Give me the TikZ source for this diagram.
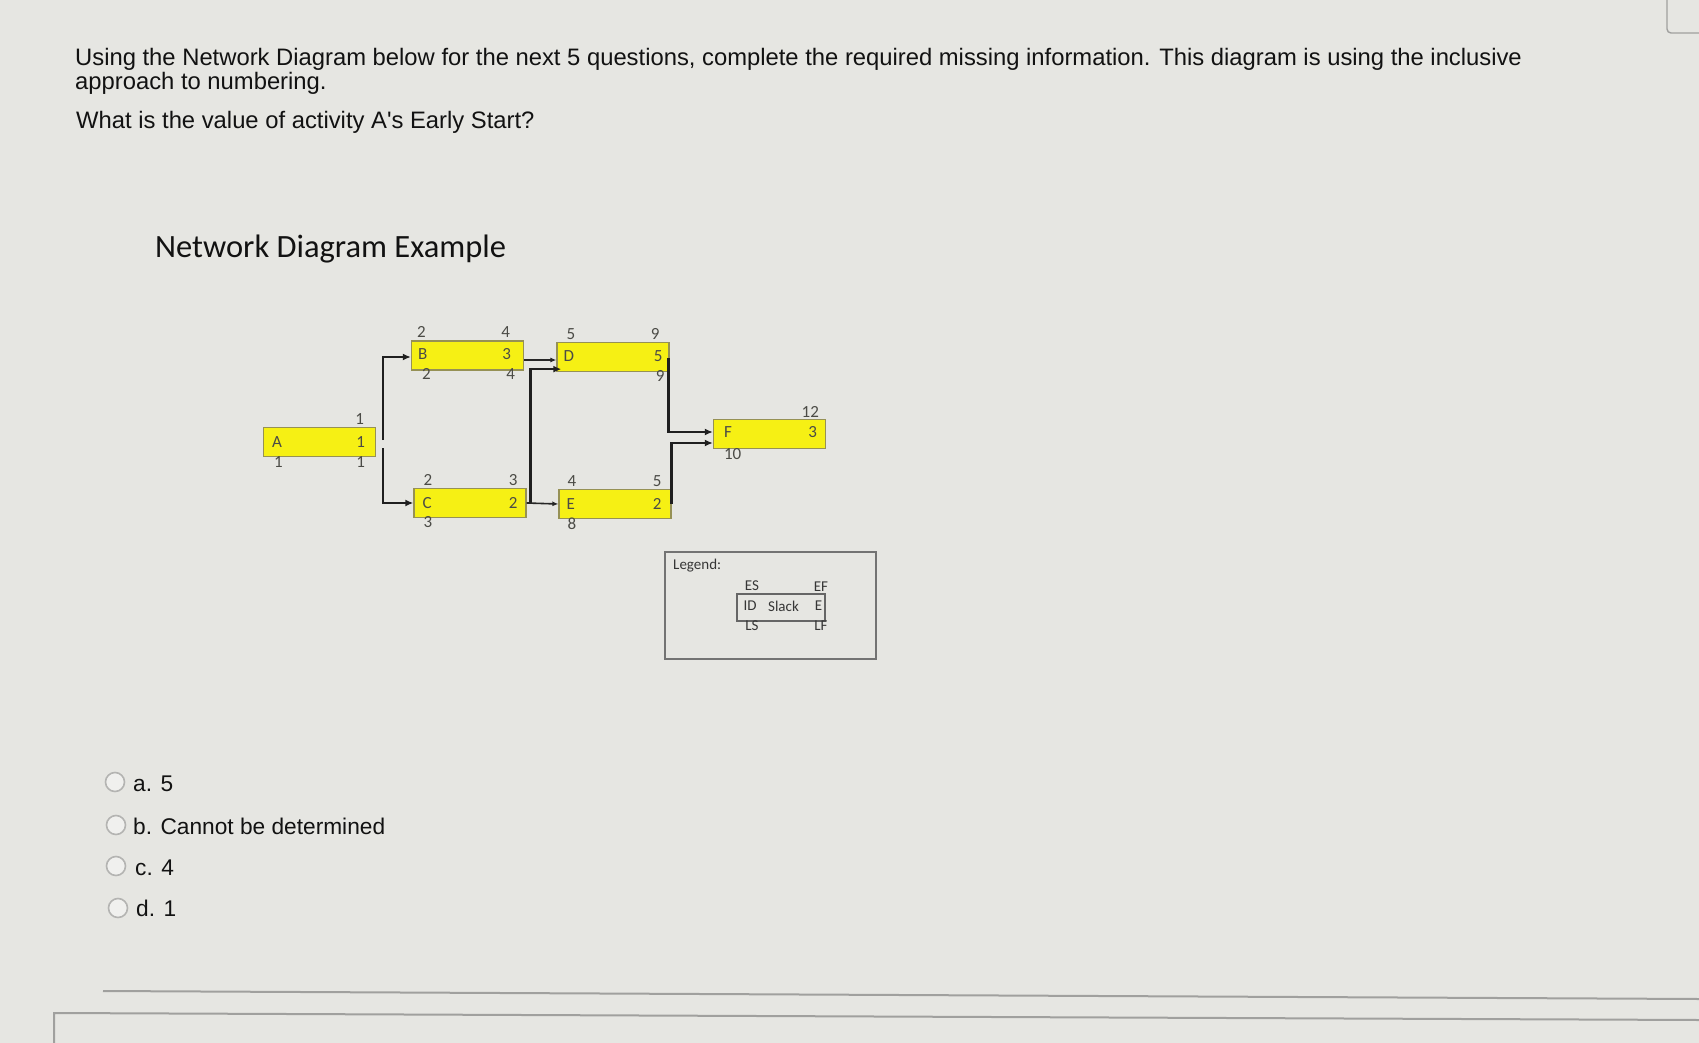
\documentclass[tikz,border=0pt]{standalone}
\usepackage{fontspec}
\setmainfont{Liberation Sans}
\newfontfamily\carlito{Carlito}
\usetikzlibrary{arrows.meta}
\definecolor{paper}{RGB}{230,230,226}
\definecolor{ink}{RGB}{18,18,18}
\definecolor{lab}{RGB}{75,75,70}
\definecolor{boxfill}{RGB}{246,240,20}
\definecolor{boxline}{RGB}{150,145,85}
\definecolor{rulegray}{RGB}{160,160,158}
\definecolor{radiogray}{RGB}{180,180,178}
\begin{document}
\begin{tikzpicture}[x=1pt,y=-1pt,
  actbox/.style={draw=boxline, line width=1.3pt, fill=boxfill, minimum width=112pt, minimum height=29pt, inner sep=0pt},
  lbl/.style={font=\carlito\fontsize{17}{17}\selectfont, text=lab, inner sep=0pt},
  leglbl/.style={font=\carlito\fontsize{15}{15}\selectfont, text=ink!85, inner sep=0pt},
  conn/.style={line width=2.4pt, draw=black!88, -{Latex[length=8pt,width=7pt]}},
  thinconn/.style={line width=1.6pt, draw=black!85, -{Latex[length=6pt,width=5pt]}},
  qtext/.style={font=\fontsize{23.8}{27}\selectfont, text=ink, inner sep=0pt},
  atext/.style={font=\fontsize{22.7}{26}\selectfont, text=ink, inner sep=0pt},
  radio/.style={circle, draw=radiogray, line width=1.6pt, fill=paper!60!white, minimum size=19pt, inner sep=0pt}
]
\useasboundingbox (0,0) rectangle (1699,1043);
\fill[paper] (0,0) rectangle (1699,1043);

% top-right corner element and bottom rules
\draw[rulegray, line width=1.4pt, rounded corners=4pt] (1667,0) -- (1667,33) -- (1699,33);
\draw[rulegray, line width=2pt] (103,991) -- (1699,999);
\draw[rulegray, line width=2pt] (1699,1020) -- (54,1013) -- (54,1043);

% question text
\node[qtext, anchor=base west] (q1) at (75,66) {Using the Network Diagram below for the next 5 questions, complete the required missing information. This diagram is using the inclusive};
\node[qtext, anchor=base west] (q2) at (75,90) {approach to numbering.};
\node[qtext, anchor=base west] (q3) at (76,129) {What is the value of activity A\textquotesingle s Early Start?};

% title
\node[anchor=base west, font=\carlito\fontsize{32.5}{32.5}\selectfont, text=ink, inner sep=0pt] (title) at (155,257) {Network Diagram Example};

% activity boxes
\node[actbox] (A) at (319.5,442) {};
\node[actbox] (B) at (467.5,355.5) {};
\node[actbox] (C) at (470,503) {};
\node[actbox] (D) at (613,357) {};
\node[actbox] (E) at (615,504) {};
\node[actbox] (F) at (769.5,434) {};

% connectors
\draw[conn] ([shift={(7,-2)}]A.east) |- ([shift={(0,1.5)}]B.west);
\draw[conn] ([shift={(7,6)}]A.east) |- (C.west);
\draw[thinconn] ([shift={(0,4.5)}]B.east) -- ([shift={(0,3)}]D.west);
\draw[conn] (C.east) -- ++(4,0) |- ([shift={(5,-3)}]D.south west);
\draw[thinconn] (C.east) -- (E.west);
\draw[conn] ([shift={(-1,1)}]D.east) |- ([shift={(0,-2)}]F.west);
\draw[conn] (E.east) |- ([shift={(0,9)}]F.west);

% labels A
\node[lbl, anchor=west] (Aid) at ([shift={(9,0)}]A.west) {A};
\node[lbl, anchor=east] (Adur) at ([shift={(-11,0)}]A.east) {1};
\node[lbl, anchor=east] (Aef) at ([shift={(-12,-7.5)}]A.north east) {1};
\node[lbl, anchor=west] (Als) at ([shift={(11,4.5)}]A.south west) {1};
\node[lbl, anchor=east] (Alf) at ([shift={(-11,4.5)}]A.south east) {1};
% labels B
\node[lbl, anchor=west] (Bid) at ([shift={(7,-1)}]B.west) {B};
\node[lbl, anchor=east] (Bdur) at ([shift={(-13,-1)}]B.east) {3};
\node[lbl, anchor=west] (Bes) at ([shift={(6,-8)}]B.north west) {2};
\node[lbl, anchor=east] (Bef) at ([shift={(-14,-8)}]B.north east) {4};
\node[lbl, anchor=west] (Bls) at ([shift={(11,3.5)}]B.south west) {2};
\node[lbl, anchor=east] (Blf) at ([shift={(-9,3.5)}]B.south east) {4};
% labels C
\node[lbl, anchor=west] (Cid) at ([shift={(9,0)}]C.west) {C};
\node[lbl, anchor=east] (Cdur) at ([shift={(-9,0)}]C.east) {2};
\node[lbl, anchor=west] (Ces) at ([shift={(10,-8)}]C.north west) {2};
\node[lbl, anchor=east] (Cef) at ([shift={(-9,-8)}]C.north east) {3};
\node[lbl, anchor=west] (Cls) at ([shift={(10,4)}]C.south west) {3};
% labels D
\node[lbl, anchor=west] (Did) at ([shift={(7,-1)}]D.west) {D};
\node[lbl, anchor=east] (Ddur) at ([shift={(-7,-1)}]D.east) {5};
\node[lbl, anchor=west] (Des) at ([shift={(10,-8)}]D.north west) {5};
\node[lbl, anchor=east] (Def) at ([shift={(-10,-8)}]D.north east) {9};
\node[lbl, anchor=east] (Dlf) at ([shift={(-5,4)}]D.south east) {9};
% labels E
\node[lbl, anchor=west] (Eid) at ([shift={(8,0)}]E.west) {E};
\node[lbl, anchor=east] (Edur) at ([shift={(-10,0)}]E.east) {2};
\node[lbl, anchor=west] (Ees) at ([shift={(9,-8)}]E.north west) {4};
\node[lbl, anchor=east] (Eef) at ([shift={(-10,-8)}]E.north east) {5};
\node[lbl, anchor=west] (Els) at ([shift={(9,5)}]E.south west) {8};
% labels F
\node[lbl, anchor=west] (Fid) at ([shift={(11,-2)}]F.west) {F};
\node[lbl, anchor=east] (Fdur) at ([shift={(-9,-2)}]F.east) {3};
\node[lbl, anchor=east] (Fef) at ([shift={(-7,-7)}]F.north east) {12};
\node[lbl, anchor=west] (Fls) at ([shift={(11,5)}]F.south west) {10};

% legend
\node[draw=black!55, line width=1.3pt, minimum width=211pt, minimum height=107pt, inner sep=0pt] (Leg) at (770.5,605.5) {};
\node[leglbl, anchor=west] (Legt) at (673,566) {Legend:};
\node[draw=black!60, line width=1.2pt, minimum width=88pt, minimum height=27pt, inner sep=0pt] (LegBox) at (781,607.5) {};
\node[leglbl] (LegID) at (750,606) {ID};
\node[leglbl] (LegSl) at (783.5,606) {Slack};
\node[leglbl] (LegE) at (818.5,606) {E};
\node[leglbl] (LegES) at (752,586) {ES};
\node[leglbl] (LegEF) at (821,587) {EF};
\node[leglbl] (LegLS) at (752,626) {LS};
\node[leglbl] (LegLF) at (821,626) {LF};

% answers
\node[radio] (ra) at (115,782) {};
\node[radio] (rb) at (116,825) {};
\node[radio] (rc) at (116,866) {};
\node[radio] (rd) at (118,908) {};
\node[atext, anchor=base west] (ta) at (133,791) {a. 5};
\node[atext, anchor=base west] (tb) at (133,834) {b. Cannot be determined};
\node[atext, anchor=base west] (tc) at (135,875) {c. 4};
\node[atext, anchor=base west] (td) at (136,916) {d. 1};
\end{tikzpicture}
\end{document}
